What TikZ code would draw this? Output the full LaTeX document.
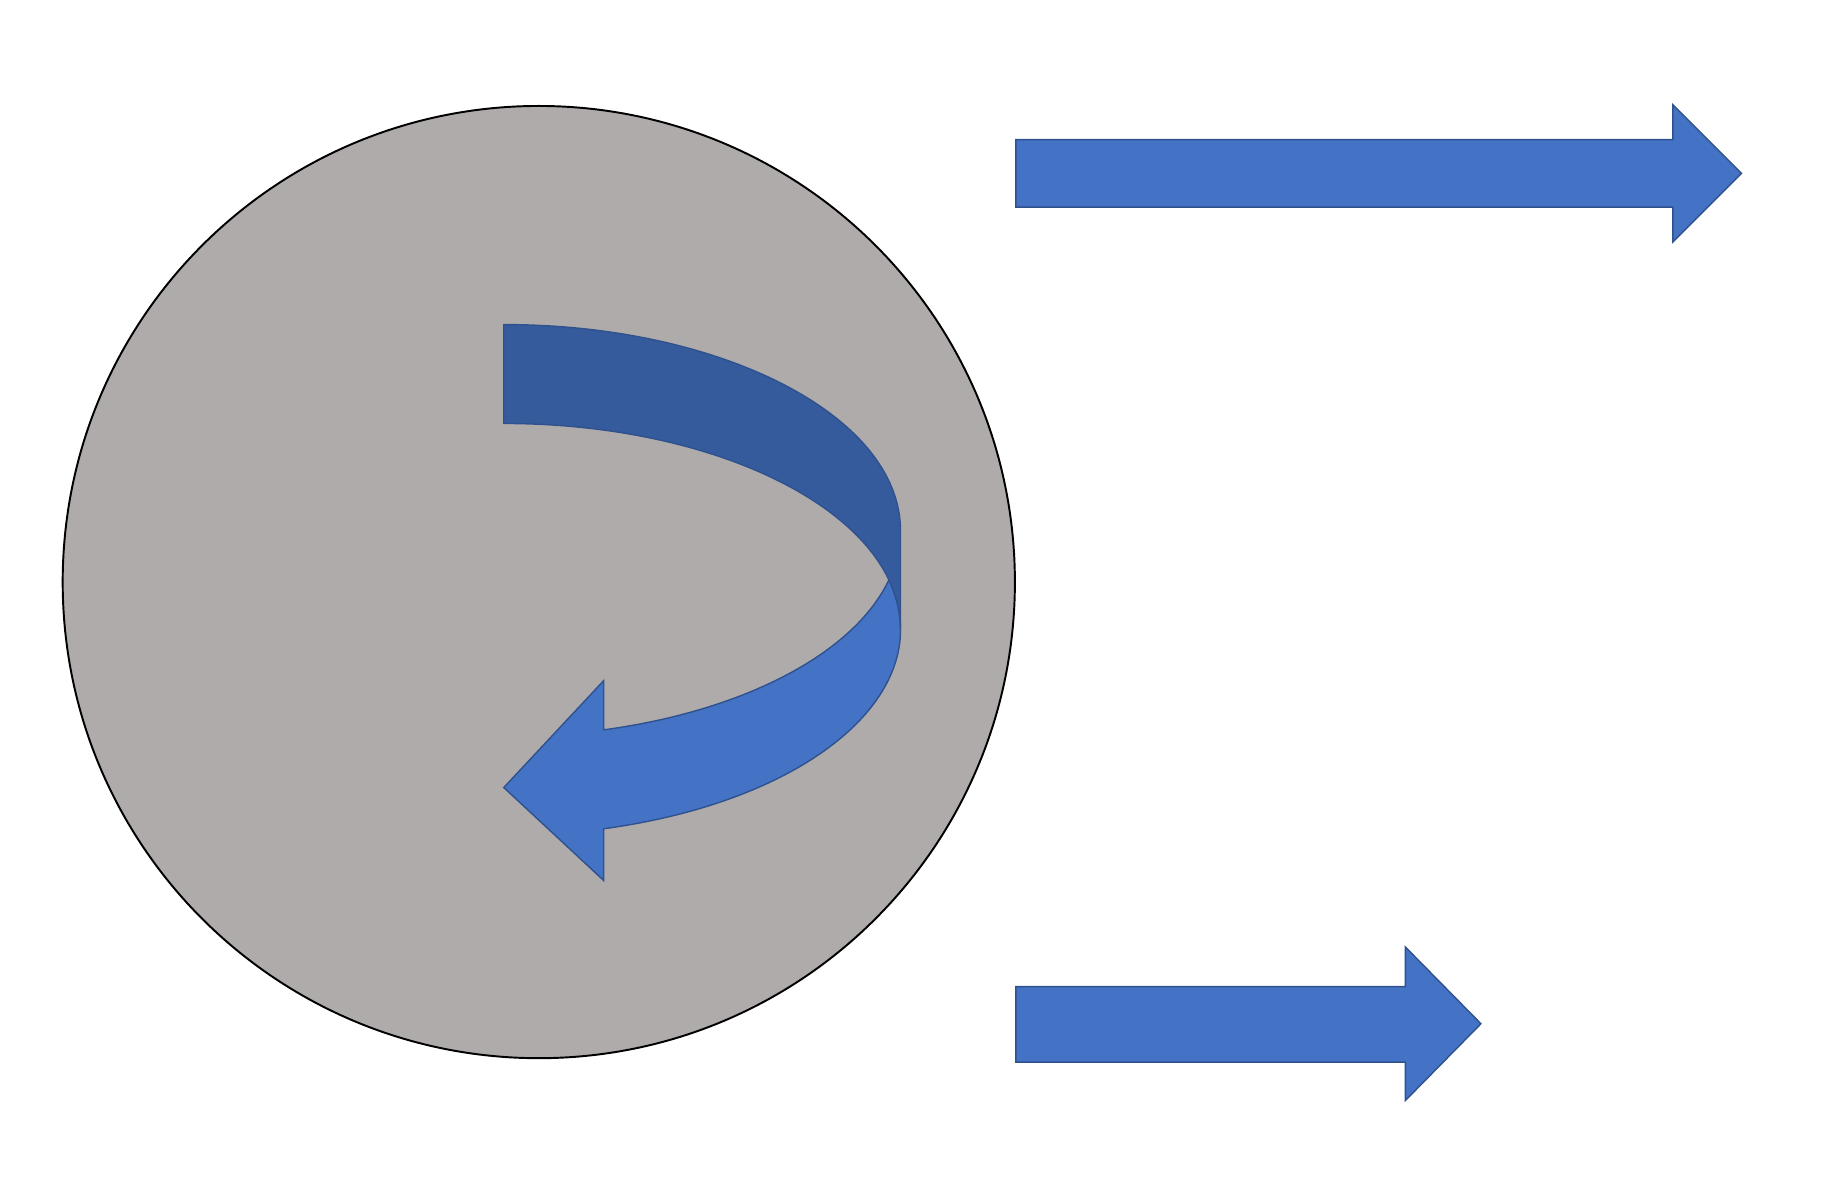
\documentclass[tikz,border=0pt]{standalone}
\definecolor{circfill}{HTML}{AFABAB}
\definecolor{arrfill}{HTML}{4472C4}
\definecolor{arrdark}{HTML}{365B9D}
\definecolor{arredge}{HTML}{2F528F}
\begin{document}
\begin{tikzpicture}[x=0.01cm,y=0.01cm,
  disc/.style={fill=circfill,draw=black,line width=0.55pt},
  blockarrow/.style={fill=arrfill,draw=arredge,line width=0.4pt,line join=miter},
  backband/.style={fill=arrdark,draw=arredge,line width=0.4pt,line join=miter}]
\useasboundingbox (0,0) rectangle (1824,-1182);
\begin{scope}[scale=0.995]
% circle
\draw[disc] (541.5,-585) circle[radius=478.5];
% top straight arrow
\draw[blockarrow] (1021,-140.3) -- (1681.3,-140.3) -- (1681.3,-105.2) -- (1750.3,-174.2)
  -- (1681.3,-243.2) -- (1681.3,-208.1) -- (1021,-208.1) -- cycle;
% bottom straight arrow
\draw[blockarrow] (1021,-991.5) -- (1412.4,-991.5) -- (1412.4,-951.7) -- (1488.4,-1028.9)
  -- (1412.4,-1106.1) -- (1412.4,-1067.5) -- (1021,-1067.5) -- cycle;
% curved arrow: front (light) band with head
\draw[blockarrow] (506.3,-632.6) ++(13.9:398.7 and 207)
  arc[start angle=13.9,end angle=-75.4,x radius=398.7,y radius=207]
  -- (606.8,-885) -- (506.3,-791.5) -- (606.8,-684) -- (606.8,-733.5)
  arc[start angle=-75.4,end angle=-13.9,x radius=398.7,y radius=207] -- cycle;
% curved arrow: back (dark) band
\draw[backband] (506.3,-326.2)
  arc[start angle=90,end angle=0,x radius=398.7,y radius=207]
  -- (905,-632.6)
  arc[start angle=0,end angle=90,x radius=398.7,y radius=207] -- cycle;
\end{scope}
\end{tikzpicture}
\end{document}
